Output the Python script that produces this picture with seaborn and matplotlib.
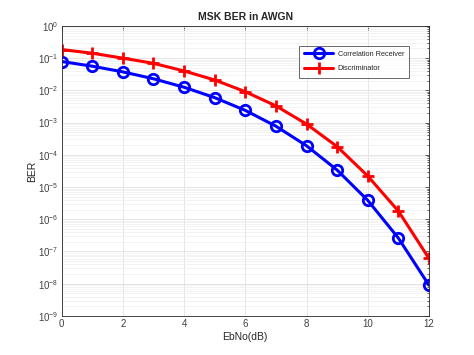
"""
MSK bit error rate in AWGN: correlation receiver vs. discriminator.
"""

import matplotlib
matplotlib.use('Agg')
import matplotlib.pyplot as plt
import matplotlib.ticker as mticker
import seaborn as sns
import pandas as pd

ebno = [0, 1, 2, 3, 4, 5, 6, 7, 8, 9, 10, 11, 12]
ber_corr = [7.86e-2, 5.63e-2, 3.75e-2, 2.29e-2, 1.25e-2, 5.95e-3, 2.39e-3,
            7.73e-4, 1.91e-4, 3.36e-5, 3.87e-6, 2.61e-7, 9.0e-9]
ber_disc = [1.85e-1, 1.42e-1, 1.0e-1, 6.9e-2, 4.0e-2, 2.1e-2, 9.1e-3,
            3.3e-3, 9.0e-4, 1.8e-4, 2.2e-5, 1.8e-6, 6.1e-8]
labels = ['Correlation Receiver', 'Discriminator']


def main():
    sns.set_style('white')
    plt.rcParams['font.family'] = ['Liberation Sans', 'DejaVu Sans']

    corr = pd.DataFrame({'EbNo': ebno, 'BER': ber_corr})
    disc = pd.DataFrame({'EbNo': ebno, 'BER': ber_disc})

    fig = plt.figure(figsize=(4.74, 3.55), dpi=100)
    ax = fig.add_axes([0.13, 0.11, 0.775, 0.817])

    sns.lineplot(data=corr, x='EbNo', y='BER', ax=ax, color='#0000ff',
                 linewidth=2.2, marker='o', markersize=7.5, fillstyle='none',
                 markeredgewidth=2, markeredgecolor='#0000ff',
                 label=labels[0])
    sns.lineplot(data=disc, x='EbNo', y='BER', ax=ax, color='#ff0000',
                 linewidth=2.2, marker='+', markersize=8,
                 markeredgewidth=2, markeredgecolor='#ff0000',
                 label=labels[1])

    ax.set_yscale('log')
    ax.set_xlim(0, 12)
    ax.set_ylim(1e-9, 1e0)
    ax.set_xticks(range(0, 13, 2))
    ax.yaxis.set_major_locator(mticker.LogLocator(base=10, numticks=20))
    ax.yaxis.set_minor_locator(mticker.LogLocator(base=10, subs=range(2, 10),
                                                  numticks=20))
    ax.yaxis.set_minor_formatter(mticker.NullFormatter())

    ax.grid(True, which='major', color='#e0e0e0', linewidth=0.6)
    ax.grid(True, which='minor', axis='y', color='#efefef', linewidth=0.5)
    ax.set_axisbelow(True)

    for side in ax.spines.values():
        side.set_color('#262626')
        side.set_linewidth(0.6)
    ax.tick_params(which='both', direction='in', top=True, right=True,
                   labelsize=7, colors='#262626', labelcolor='#404040',
                   length=3, width=0.5, pad=2.5)
    ax.tick_params(which='minor', length=1.5)

    ax.set_title('MSK BER in AWGN', fontsize=7.5, fontweight='bold', pad=4)
    ax.set_xlabel('EbNo(dB)', fontsize=7.5, labelpad=2, color='#262626')
    ax.set_ylabel('BER', fontsize=7.5, color='#262626')
    ax.yaxis.set_label_coords(-0.068, 0.5)

    leg = ax.legend(loc='upper right', bbox_to_anchor=(0.957, 0.945),
                    fontsize=5.3, frameon=True, fancybox=False,
                    handlelength=4, borderpad=0.7, labelspacing=1.0,
                    handletextpad=0.6, edgecolor='#262626')
    leg.get_frame().set_linewidth(0.6)

    fig.savefig('out.png', dpi=100, facecolor='white')


if __name__ == '__main__':
    main()
